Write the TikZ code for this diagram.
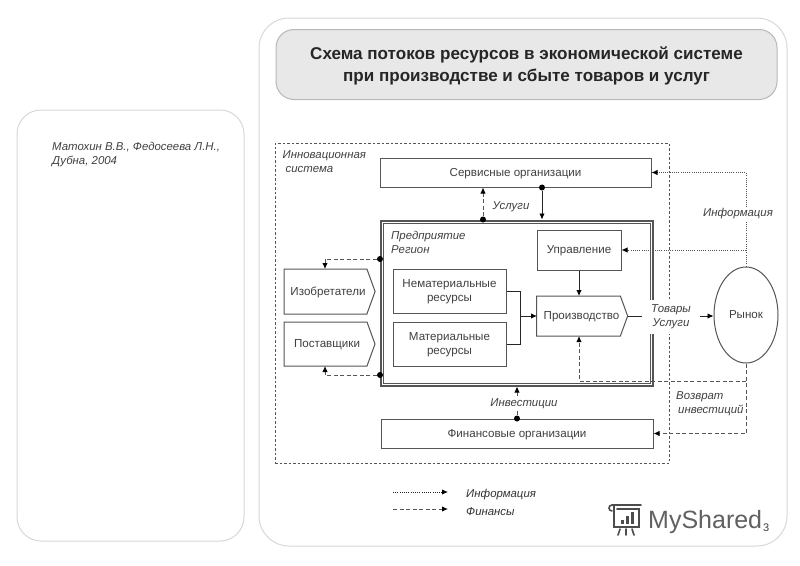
\documentclass[tikz,border=0pt]{standalone}
\usepackage{fontspec}
\setmainfont{Liberation Sans}
\usetikzlibrary{arrows.meta,shapes.geometric,shapes.symbols,calc}
\definecolor{ink}{HTML}{404040}
\definecolor{edge}{HTML}{555555}
\definecolor{panel}{HTML}{D8D8D8}
\tikzset{
  x=1pt,y=-1pt,
  panelbox/.style={draw=panel,line width=1pt,fill=white,rounded corners=24pt},
  orgbox/.style={draw=edge,line width=1pt,fill=white,text=ink,font=\fontsize{11.6}{14}\selectfont,align=center,inner sep=0pt,text depth=0pt},
  sigbox/.style={orgbox,shape=signal,signal to=east,signal pointer angle=140},
  lab/.style={text=ink,font=\fontsize{11.4}{14}\itshape\selectfont,align=left,inner sep=1pt},
  wlab/.style={lab,fill=white},
  dotn/.style={circle,fill=black,inner sep=0pt,minimum size=6pt},
  tip/.style={-{Latex[length=6pt,width=5.5pt,black]}},
  solidc/.style={draw=black!85,line width=.9pt},
  dashc/.style={draw=edge,line width=1pt,dash pattern=on 4pt off 2.5pt},
  dotc/.style={draw=edge,line width=1pt,dash pattern=on 1pt off 1.2pt},
}
\begin{document}
\begin{tikzpicture}
\useasboundingbox (0,0) rectangle (800,565);
\fill[white] (0,0) rectangle (800,565);
% panels
\draw[panelbox] (17,110) rectangle (244,541);
\draw[panelbox,rounded corners=30pt] (259,18) rectangle (787,546);
\node[draw=panel!85!black,line width=1pt,fill=black!9,rounded corners=18pt,minimum width=501pt,minimum height=70pt,align=center,
  font=\fontsize{17.05}{22}\bfseries\selectfont,text=black!85,inner sep=0pt,text depth=0pt] (title) at (526.5,64.5)
  {Схема потоков ресурсов в экономической системе\\при производстве и сбыте товаров и услуг};
\node[lab,anchor=north west] (src) at (51,141.5) {Матохин В.В., Федосеева Л.Н.,\\Дубна, 2004};
% innovation system frame
\node[draw=edge,line width=1pt,dash pattern=on 2.5pt off 2pt,minimum width=394pt,minimum height=320pt,inner sep=0pt] (inno) at (472,303) {};
% enterprise
\node[draw=edge,line width=2pt,minimum width=272.5pt,minimum height=165pt,fill=white,inner sep=0pt] (ent) at (516.75,303) {};
\node[draw=edge,line width=.8pt,minimum width=267.5pt,minimum height=160pt,inner sep=0pt] (enti) at (516.75,303) {};
% boxes
\node[orgbox,minimum width=271pt,minimum height=29pt] (serv) at (515.5,172.5) {Сервисные организации};
\node[orgbox,minimum width=272pt,minimum height=29pt] (fin) at (517,433.5) {Финансовые организации};
\node[sigbox,minimum width=91pt,minimum height=45pt] (inv) at (325.5,291.5) {\hspace*{5pt}Изобретатели};
\node[sigbox,minimum width=91pt,minimum height=44pt] (sup) at (325.5,344) {\hspace*{3pt}Поставщики};
\node[orgbox,minimum width=113pt,minimum height=44pt] (nem) at (449.5,291) {Нематериальные\\ресурсы};
\node[orgbox,minimum width=113pt,minimum height=44pt] (mat) at (449.5,344) {Материальные\\ресурсы};
\node[orgbox,minimum width=84pt,minimum height=40pt] (upr) at (579,250) {Управление};
\node[sigbox,minimum width=91pt,minimum height=40pt] (prod) at (578.5,316) {\hspace*{6pt}Производство};
\node[orgbox,shape=ellipse,minimum width=64pt,minimum height=96pt] (mkt) at (746,315) {Рынок};
% helper points
\coordinate (j) at (520,316);
\node[dotn] (d1) at (serv.south -| 542,0) {};
\node[dotn] (d2) at (ent.north -| 483,0) {};
\node[dotn] (d3) at (380,259) {};
\node[dotn] (d4) at (380,375) {};
\node[dotn] (d5) at (fin.north -| 517,0) {};
% solid connectors
\draw[solidc] (nem.east) -| (j);
\draw[solidc] (mat.east) -| (j);
\draw[solidc,tip] (j) -- (j -| 537,0);
\draw[solidc,tip] (upr.south) -- (579,296);
\draw[solidc,tip] (d1) -- (d1 |- ent.north);
\draw[solidc,tip] (prod.east) -- (prod.east -| mkt.west);
% dashed connectors
\draw[dashc,tip] (d2) -- (d2 |- serv.south);
\draw[dashc,tip] (d3) -| (325,269);
\draw[dashc,tip] (d4) -| (325,366);
\draw[dashc,tip] (d5) -- (d5 |- ent.south);
\draw[dashc,tip] (mkt.south) |- (fin.east);
\coordinate (ret) at (746,381);
\draw[dashc,tip] (ret) -| (579,336);
% dotted connectors
\draw[dotc,tip] (mkt.north) |- (serv.east);
\coordinate (inf) at (746,250);
\draw[dotc,tip] (inf) -- (upr.east);
% labels
\node[lab,anchor=north west] at (281.5,149.5) {Инновационная\\\hspace*{3pt}система};
\node[wlab] at (511,207) {Услуги};
\node[lab,anchor=north west] at (390,230.5) {Предприятие\\Регион};
\node[wlab] at (738,214) {Информация};
\node[wlab,minimum width=58pt,minimum height=34pt,align=center,inner sep=0pt] at (671,317) {Товары\\Услуги};
\node[wlab] at (524,404) {Инвестиции};
\node[lab,anchor=north west] at (675,390.5) {Возврат\\\hspace*{2pt}инвестиций};
% legend
\coordinate (l1a) at (393,492); \coordinate (l1b) at (448,492);
\coordinate (l2a) at (393,509); \coordinate (l2b) at (448,509);
\draw[dotc,draw=black!85,tip] (l1a) -- (l1b);
\draw[dashc,tip] (l2a) -- (l2b);
\node[lab,anchor=west,text=black!80] at (465,495) {Информация};
\node[lab,anchor=west,text=black!80] at (465,511.5) {Финансы};
% logo
\begin{scope}[draw=black!70,line width=1.6pt,line cap=round]
  \draw (612,505) -- (641,505);
  \draw (612,505) .. controls (608,505) and (608,511) .. (612,511);
  \draw (614,505) -- (614,527) -- (639,527) -- (639,509) -- (617,509);
  \fill[black!70] (621,520) rectangle (624,524);
  \fill[black!70] (626,516) rectangle (629,524);
  \fill[black!70] (631,512) rectangle (634,524);
  \draw (620,529) -- (618,535);
  \draw (626,529) -- (626,535);
  \draw (632,529) -- (634,535);
\end{scope}
\node[inner sep=0pt,anchor=base west,text=black!62,font=\fontsize{25}{30}\selectfont] (logo) at (648,528) {MyShared};
\node[inner sep=0pt,anchor=base west,text=ink,font=\fontsize{11}{14}\selectfont] at (763,531) {3};
\end{tikzpicture}
\end{document}
